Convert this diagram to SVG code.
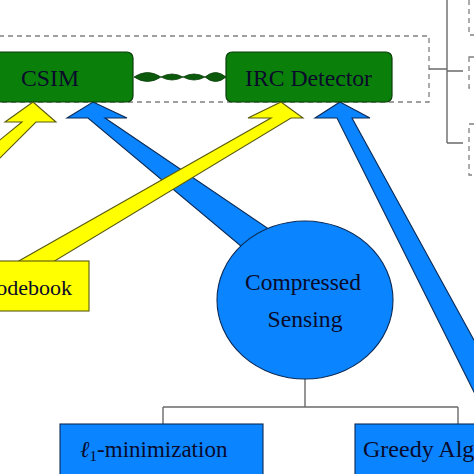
<svg xmlns="http://www.w3.org/2000/svg" width="474" height="474" viewBox="0 0 474 474">
<style>
text{font-family:"Liberation Serif","Times New Roman",serif;font-size:23px;fill:#0a0a2a}
.green{fill:#0a800a;stroke:#0b3d0b;stroke-width:1.2}
.blue{fill:#0a84ff;stroke:#0b2a55;stroke-width:1.1}
.yellow{fill:#ffff00;stroke:#5a5a10;stroke-width:1.1}
.dash{fill:none;stroke:#808080;stroke-width:1.3;stroke-dasharray:5,4}
.tree{fill:none;stroke:#6a6a6a;stroke-width:1.4}
</style>
<rect width="474" height="474" fill="#ffffff"/>
<rect id="group-box" class="dash" x="-10" y="36" width="439" height="66"/>
<g id="connectors">
<path class="blue" d="M93,102 L127,118 L105,118 L285,240 L260,262 L88,118 L67,118 Z"/>
<path class="blue" d="M340,102 L370,118 L352,118 L480,351 L480,404 L337,118 L315,118 Z"/>
<path class="tree" d="M305,378 V407 M163,407 H458 M163,407 V424 M458,407 V424"/>
<path class="tree" d="M429,69 H447 M447,-5 V143 M447,71 H463 M447,143 H463"/>
<path d="M134,77 Q147.5,68 161,77 Q147.5,86 134,77 Z M161,77 Q172,71 183,77 Q172,83 161,77 Z M183,77 Q194,71 205,77 Q194,83 183,77 Z M205,77 Q215.5,68 226,77 Q215.5,86 205,77 Z" fill="#0b5a0b" stroke="#0b3d0b" stroke-width="0.8"/>
</g>
<g id="csim">
<rect class="green" x="-10" y="52" width="143" height="50" rx="6"/>
<text x="50" y="86" text-anchor="middle" textLength="58" lengthAdjust="spacingAndGlyphs">CSIM</text>
</g>
<g id="irc-detector">
<rect class="green" x="226" y="52" width="166" height="50" rx="6"/>
<text x="245" y="86" textLength="127" lengthAdjust="spacingAndGlyphs">IRC Detector</text>
</g>
<g id="compressed-sensing">
<ellipse class="blue" cx="305" cy="300" rx="88" ry="79"/>
<text x="303" y="290" text-anchor="middle" textLength="116" lengthAdjust="spacingAndGlyphs">Compressed</text>
<text x="305" y="327" text-anchor="middle" textLength="75" lengthAdjust="spacingAndGlyphs">Sensing</text>
</g>
<g id="yellow-arrows">
<path class="yellow" d="M33,102 L56,122 L36,122 L-10,168 L-10,148 L22,122 L5,122 Z"/>
<path class="yellow" d="M281,102 L303,118 L291,118 L53,262 L17,262 L271,118 L248,118 Z"/>
</g>
<g id="codebook">
<rect class="yellow" x="-10" y="261" width="99" height="50"/>
<text x="72" y="295" text-anchor="end" style="font-size:22px">Codebook</text>
</g>
<g id="l1-minimization">
<rect class="blue" x="60" y="424" width="203" height="60"/>
<text x="80" y="457"><tspan font-style="italic">ℓ</tspan><tspan dy="4" style="font-size:15px">1</tspan><tspan dy="-4">-minimization</tspan></text>
</g>
<g id="greedy-algorithms">
<rect class="blue" x="355" y="424" width="130" height="60"/>
<text x="363" y="457" style="font-size:24px">Greedy Algorithms</text>
</g>
<g id="right-boxes">
<rect class="dash" x="469" y="-10" width="30" height="45"/>
<rect class="dash" x="469" y="57" width="30" height="31"/>
<rect class="dash" x="469" y="124" width="30" height="51"/>
</g>
</svg>
